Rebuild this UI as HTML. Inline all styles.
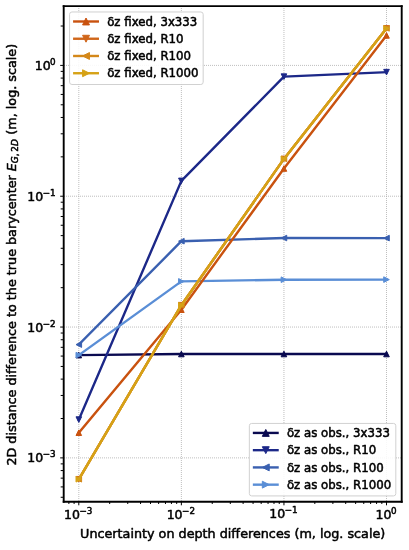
<!DOCTYPE html>
<html><head><meta charset="utf-8"><title>plot</title>
<style>html,body{margin:0;padding:0;background:#fff;}svg{display:block;filter:blur(0.3px);}text{stroke:#000;stroke-width:0.5px;stroke-linejoin:round;}</style>
</head><body>
<svg width="409" height="550" viewBox="0 0 409 550" version="1.1">
  <defs>
  <style type="text/css">*{stroke-linejoin: round; stroke-linecap: butt}</style>
 </defs>
 <g id="figure_1">
  <g id="patch_1">
   <path d="M 0 550 L 409 550 L 409 0 L 0 0 z
" style="fill: #ffffff"/>
  </g>
  <g id="axes_1">
   <g id="patch_2">
    <path d="M 63.7 501.8 L 401.7 501.8 L 401.7 6.1 L 63.7 6.1 z
" style="fill: #ffffff"/>
   </g>
   <g id="matplotlib.axis_1">
    <g id="xtick_1">
     <g id="line2d_1">
      <path d="M 78.8 501.8 L 78.8 6.1 " clip-path="url(#p9ecd431a60)" style="fill: none; stroke-dasharray: 1,1; stroke-dashoffset: 1.20; stroke: #adadad; stroke-width: 0.8"/>
     </g>
     <g id="line2d_2">
            <g>
       <path d="M 0 0 L 0 3.5 " transform="translate(78.8 501.8)" style="stroke: #000000;stroke: #000000"/>
      </g>
     </g>
     <g id="text_1">
            <g transform="translate(64.1125 518.798047)">
       <text>
        <tspan x="0" y="-0.264063" style="font-size: 12.5px; font-family: 'DejaVu Sans', sans-serif">1</tspan>
        <tspan x="7.952881" y="-0.264063" style="font-size: 12.5px; font-family: 'DejaVu Sans', sans-serif">0</tspan>
        <tspan x="15.4302" y="-5.240625" style="font-size: 8.75px; font-family: 'DejaVu Sans', sans-serif">−</tspan>
        <tspan x="22.7617" y="-5.240625" style="font-size: 8.75px; font-family: 'DejaVu Sans', sans-serif">3</tspan>
       </text>
      </g>
     </g>
    </g>
    <g id="xtick_2">
     <g id="line2d_3">
      <path d="M 181.37 501.8 L 181.37 6.1 " clip-path="url(#p9ecd431a60)" style="fill: none; stroke-dasharray: 1,1; stroke-dashoffset: 1.20; stroke: #adadad; stroke-width: 0.8"/>
     </g>
     <g id="line2d_4">
      <g>
       <path d="M 0 0 L 0 3.5 " transform="translate(181.37 501.8)" style="stroke: #000000;stroke: #000000"/>
      </g>
     </g>
     <g id="text_2">
            <g transform="translate(166.6825 518.798047)">
       <text>
        <tspan x="0" y="-0.264063" style="font-size: 12.5px; font-family: 'DejaVu Sans', sans-serif">1</tspan>
        <tspan x="7.952881" y="-0.264063" style="font-size: 12.5px; font-family: 'DejaVu Sans', sans-serif">0</tspan>
        <tspan x="15.4302" y="-5.240625" style="font-size: 8.75px; font-family: 'DejaVu Sans', sans-serif">−</tspan>
        <tspan x="22.7617" y="-5.240625" style="font-size: 8.75px; font-family: 'DejaVu Sans', sans-serif">2</tspan>
       </text>
      </g>
     </g>
    </g>
    <g id="xtick_3">
     <g id="line2d_5">
      <path d="M 283.94 501.8 L 283.94 6.1 " clip-path="url(#p9ecd431a60)" style="fill: none; stroke-dasharray: 1,1; stroke-dashoffset: 1.20; stroke: #adadad; stroke-width: 0.8"/>
     </g>
     <g id="line2d_6">
      <g>
       <path d="M 0 0 L 0 3.5 " transform="translate(283.94 501.8)" style="stroke: #000000;stroke: #000000"/>
      </g>
     </g>
     <g id="text_3">
            <g transform="translate(269.2525 518.798047)">
       <text>
        <tspan x="0" y="-0.384375" style="font-size: 12.5px; font-family: 'DejaVu Sans', sans-serif">1</tspan>
        <tspan x="7.952881" y="-0.384375" style="font-size: 12.5px; font-family: 'DejaVu Sans', sans-serif">0</tspan>
        <tspan x="15.4302" y="-5.360938" style="font-size: 8.75px; font-family: 'DejaVu Sans', sans-serif">−</tspan>
        <tspan x="22.7617" y="-5.360938" style="font-size: 8.75px; font-family: 'DejaVu Sans', sans-serif">1</tspan>
       </text>
      </g>
     </g>
    </g>
    <g id="xtick_4">
     <g id="line2d_7">
      <path d="M 386.51 501.8 L 386.51 6.1 " clip-path="url(#p9ecd431a60)" style="fill: none; stroke-dasharray: 1,1; stroke-dashoffset: 1.20; stroke: #adadad; stroke-width: 0.8"/>
     </g>
     <g id="line2d_8">
      <g>
       <path d="M 0 0 L 0 3.5 " transform="translate(386.51 501.8)" style="stroke: #000000;stroke: #000000"/>
      </g>
     </g>
     <g id="text_4">
            <g transform="translate(375.51 518.798047)">
       <text>
        <tspan x="0" y="-0.264063" style="font-size: 12.5px; font-family: 'DejaVu Sans', sans-serif">1</tspan>
        <tspan x="7.952881" y="-0.264063" style="font-size: 12.5px; font-family: 'DejaVu Sans', sans-serif">0</tspan>
        <tspan x="15.4302" y="-5.240625" style="font-size: 8.75px; font-family: 'DejaVu Sans', sans-serif">0</tspan>
       </text>
      </g>
     </g>
    </g>
    <g id="xtick_5">
     <g id="line2d_9">
            <g>
       <path d="M 0 0 L 0 2.2 " transform="translate(68.85994 501.8)" style="stroke: #000000;stroke: #000000"/>
      </g>
     </g>
    </g>
    <g id="xtick_6">
     <g id="line2d_10">
      <g>
       <path d="M 0 0 L 0 2.2 " transform="translate(74.106654 501.8)" style="stroke: #000000;stroke: #000000"/>
      </g>
     </g>
    </g>
    <g id="xtick_7">
     <g id="line2d_11">
      <g>
       <path d="M 0 0 L 0 2.2 " transform="translate(109.676647 501.8)" style="stroke: #000000;stroke: #000000"/>
      </g>
     </g>
    </g>
    <g id="xtick_8">
     <g id="line2d_12">
      <g>
       <path d="M 0 0 L 0 2.2 " transform="translate(127.738327 501.8)" style="stroke: #000000;stroke: #000000"/>
      </g>
     </g>
    </g>
    <g id="xtick_9">
     <g id="line2d_13">
      <g>
       <path d="M 0 0 L 0 2.2 " transform="translate(140.553293 501.8)" style="stroke: #000000;stroke: #000000"/>
      </g>
     </g>
    </g>
    <g id="xtick_10">
     <g id="line2d_14">
      <g>
       <path d="M 0 0 L 0 2.2 " transform="translate(150.493353 501.8)" style="stroke: #000000;stroke: #000000"/>
      </g>
     </g>
    </g>
    <g id="xtick_11">
     <g id="line2d_15">
      <g>
       <path d="M 0 0 L 0 2.2 " transform="translate(158.614974 501.8)" style="stroke: #000000;stroke: #000000"/>
      </g>
     </g>
    </g>
    <g id="xtick_12">
     <g id="line2d_16">
      <g>
       <path d="M 0 0 L 0 2.2 " transform="translate(165.481706 501.8)" style="stroke: #000000;stroke: #000000"/>
      </g>
     </g>
    </g>
    <g id="xtick_13">
     <g id="line2d_17">
      <g>
       <path d="M 0 0 L 0 2.2 " transform="translate(171.42994 501.8)" style="stroke: #000000;stroke: #000000"/>
      </g>
     </g>
    </g>
    <g id="xtick_14">
     <g id="line2d_18">
      <g>
       <path d="M 0 0 L 0 2.2 " transform="translate(176.676654 501.8)" style="stroke: #000000;stroke: #000000"/>
      </g>
     </g>
    </g>
    <g id="xtick_15">
     <g id="line2d_19">
      <g>
       <path d="M 0 0 L 0 2.2 " transform="translate(212.246647 501.8)" style="stroke: #000000;stroke: #000000"/>
      </g>
     </g>
    </g>
    <g id="xtick_16">
     <g id="line2d_20">
      <g>
       <path d="M 0 0 L 0 2.2 " transform="translate(230.308327 501.8)" style="stroke: #000000;stroke: #000000"/>
      </g>
     </g>
    </g>
    <g id="xtick_17">
     <g id="line2d_21">
      <g>
       <path d="M 0 0 L 0 2.2 " transform="translate(243.123293 501.8)" style="stroke: #000000;stroke: #000000"/>
      </g>
     </g>
    </g>
    <g id="xtick_18">
     <g id="line2d_22">
      <g>
       <path d="M 0 0 L 0 2.2 " transform="translate(253.063353 501.8)" style="stroke: #000000;stroke: #000000"/>
      </g>
     </g>
    </g>
    <g id="xtick_19">
     <g id="line2d_23">
      <g>
       <path d="M 0 0 L 0 2.2 " transform="translate(261.184974 501.8)" style="stroke: #000000;stroke: #000000"/>
      </g>
     </g>
    </g>
    <g id="xtick_20">
     <g id="line2d_24">
      <g>
       <path d="M 0 0 L 0 2.2 " transform="translate(268.051706 501.8)" style="stroke: #000000;stroke: #000000"/>
      </g>
     </g>
    </g>
    <g id="xtick_21">
     <g id="line2d_25">
      <g>
       <path d="M 0 0 L 0 2.2 " transform="translate(273.99994 501.8)" style="stroke: #000000;stroke: #000000"/>
      </g>
     </g>
    </g>
    <g id="xtick_22">
     <g id="line2d_26">
      <g>
       <path d="M 0 0 L 0 2.2 " transform="translate(279.246654 501.8)" style="stroke: #000000;stroke: #000000"/>
      </g>
     </g>
    </g>
    <g id="xtick_23">
     <g id="line2d_27">
      <g>
       <path d="M 0 0 L 0 2.2 " transform="translate(314.816647 501.8)" style="stroke: #000000;stroke: #000000"/>
      </g>
     </g>
    </g>
    <g id="xtick_24">
     <g id="line2d_28">
      <g>
       <path d="M 0 0 L 0 2.2 " transform="translate(332.878327 501.8)" style="stroke: #000000;stroke: #000000"/>
      </g>
     </g>
    </g>
    <g id="xtick_25">
     <g id="line2d_29">
      <g>
       <path d="M 0 0 L 0 2.2 " transform="translate(345.693293 501.8)" style="stroke: #000000;stroke: #000000"/>
      </g>
     </g>
    </g>
    <g id="xtick_26">
     <g id="line2d_30">
      <g>
       <path d="M 0 0 L 0 2.2 " transform="translate(355.633353 501.8)" style="stroke: #000000;stroke: #000000"/>
      </g>
     </g>
    </g>
    <g id="xtick_27">
     <g id="line2d_31">
      <g>
       <path d="M 0 0 L 0 2.2 " transform="translate(363.754974 501.8)" style="stroke: #000000;stroke: #000000"/>
      </g>
     </g>
    </g>
    <g id="xtick_28">
     <g id="line2d_32">
      <g>
       <path d="M 0 0 L 0 2.2 " transform="translate(370.621706 501.8)" style="stroke: #000000;stroke: #000000"/>
      </g>
     </g>
    </g>
    <g id="xtick_29">
     <g id="line2d_33">
      <g>
       <path d="M 0 0 L 0 2.2 " transform="translate(376.56994 501.8)" style="stroke: #000000;stroke: #000000"/>
      </g>
     </g>
    </g>
    <g id="xtick_30">
     <g id="line2d_34">
      <g>
       <path d="M 0 0 L 0 2.2 " transform="translate(381.816654 501.8)" style="stroke: #000000;stroke: #000000"/>
      </g>
     </g>
    </g>
    <g id="text_5">
     <text style="font-size: 12.75px; font-family: 'DejaVu Sans', sans-serif; text-anchor: middle" x="232.7" y="538.285664" transform="rotate(-0 232.7 538.285664)">Uncertainty on depth differences (m, log. scale)</text>
    </g>
   </g>
   <g id="matplotlib.axis_2">
    <g id="ytick_1">
     <g id="line2d_35">
      <path d="M 63.7 457.89 L 401.7 457.89 " clip-path="url(#p9ecd431a60)" style="fill: none; stroke-dasharray: 1,1; stroke-dashoffset: 1.70; stroke: #adadad; stroke-width: 0.8"/>
     </g>
     <g id="line2d_36">
            <g>
       <path d="M 0 0 L -3.5 0 " transform="translate(63.7 457.89)" style="stroke: #000000;stroke: #000000"/>
      </g>
     </g>
     <g id="text_6">
            <g transform="translate(27.325 462.639023)">
       <text>
        <tspan x="0" y="-0.264063" style="font-size: 12.5px; font-family: 'DejaVu Sans', sans-serif">1</tspan>
        <tspan x="7.952881" y="-0.264063" style="font-size: 12.5px; font-family: 'DejaVu Sans', sans-serif">0</tspan>
        <tspan x="15.4302" y="-5.240625" style="font-size: 8.75px; font-family: 'DejaVu Sans', sans-serif">−</tspan>
        <tspan x="22.7617" y="-5.240625" style="font-size: 8.75px; font-family: 'DejaVu Sans', sans-serif">3</tspan>
       </text>
      </g>
     </g>
    </g>
    <g id="ytick_2">
     <g id="line2d_37">
      <path d="M 63.7 327.06 L 401.7 327.06 " clip-path="url(#p9ecd431a60)" style="fill: none; stroke-dasharray: 1,1; stroke-dashoffset: 1.70; stroke: #adadad; stroke-width: 0.8"/>
     </g>
     <g id="line2d_38">
      <g>
       <path d="M 0 0 L -3.5 0 " transform="translate(63.7 327.06)" style="stroke: #000000;stroke: #000000"/>
      </g>
     </g>
     <g id="text_7">
            <g transform="translate(27.325 331.809023)">
       <text>
        <tspan x="0" y="-0.264063" style="font-size: 12.5px; font-family: 'DejaVu Sans', sans-serif">1</tspan>
        <tspan x="7.952881" y="-0.264063" style="font-size: 12.5px; font-family: 'DejaVu Sans', sans-serif">0</tspan>
        <tspan x="15.4302" y="-5.240625" style="font-size: 8.75px; font-family: 'DejaVu Sans', sans-serif">−</tspan>
        <tspan x="22.7617" y="-5.240625" style="font-size: 8.75px; font-family: 'DejaVu Sans', sans-serif">2</tspan>
       </text>
      </g>
     </g>
    </g>
    <g id="ytick_3">
     <g id="line2d_39">
      <path d="M 63.7 196.23 L 401.7 196.23 " clip-path="url(#p9ecd431a60)" style="fill: none; stroke-dasharray: 1,1; stroke-dashoffset: 1.70; stroke: #adadad; stroke-width: 0.8"/>
     </g>
     <g id="line2d_40">
      <g>
       <path d="M 0 0 L -3.5 0 " transform="translate(63.7 196.23)" style="stroke: #000000;stroke: #000000"/>
      </g>
     </g>
     <g id="text_8">
            <g transform="translate(27.325 200.979023)">
       <text>
        <tspan x="0" y="-0.384375" style="font-size: 12.5px; font-family: 'DejaVu Sans', sans-serif">1</tspan>
        <tspan x="7.952881" y="-0.384375" style="font-size: 12.5px; font-family: 'DejaVu Sans', sans-serif">0</tspan>
        <tspan x="15.4302" y="-5.360938" style="font-size: 8.75px; font-family: 'DejaVu Sans', sans-serif">−</tspan>
        <tspan x="22.7617" y="-5.360938" style="font-size: 8.75px; font-family: 'DejaVu Sans', sans-serif">1</tspan>
       </text>
      </g>
     </g>
    </g>
    <g id="ytick_4">
     <g id="line2d_41">
      <path d="M 63.7 65.4 L 401.7 65.4 " clip-path="url(#p9ecd431a60)" style="fill: none; stroke-dasharray: 1,1; stroke-dashoffset: 1.70; stroke: #adadad; stroke-width: 0.8"/>
     </g>
     <g id="line2d_42">
      <g>
       <path d="M 0 0 L -3.5 0 " transform="translate(63.7 65.4)" style="stroke: #000000;stroke: #000000"/>
      </g>
     </g>
     <g id="text_9">
            <g transform="translate(34.7 70.149023)">
       <text>
        <tspan x="0" y="-0.264063" style="font-size: 12.5px; font-family: 'DejaVu Sans', sans-serif">1</tspan>
        <tspan x="7.952881" y="-0.264063" style="font-size: 12.5px; font-family: 'DejaVu Sans', sans-serif">0</tspan>
        <tspan x="15.4302" y="-5.240625" style="font-size: 8.75px; font-family: 'DejaVu Sans', sans-serif">0</tspan>
       </text>
      </g>
     </g>
    </g>
    <g id="ytick_5">
     <g id="line2d_43">
            <g>
       <path d="M 0 0 L -3 0 " transform="translate(63.7 497.273754)" style="stroke: #000000;stroke: #000000"/>
      </g>
     </g>
    </g>
    <g id="ytick_6">
     <g id="line2d_44">
      <g>
       <path d="M 0 0 L -3 0 " transform="translate(63.7 486.914472)" style="stroke: #000000;stroke: #000000"/>
      </g>
     </g>
    </g>
    <g id="ytick_7">
     <g id="line2d_45">
      <g>
       <path d="M 0 0 L -3 0 " transform="translate(63.7 478.155823)" style="stroke: #000000;stroke: #000000"/>
      </g>
     </g>
    </g>
    <g id="ytick_8">
     <g id="line2d_46">
      <g>
       <path d="M 0 0 L -3 0 " transform="translate(63.7 470.568737)" style="stroke: #000000;stroke: #000000"/>
      </g>
     </g>
    </g>
    <g id="ytick_9">
     <g id="line2d_47">
      <g>
       <path d="M 0 0 L -3 0 " transform="translate(63.7 463.876452)" style="stroke: #000000;stroke: #000000"/>
      </g>
     </g>
    </g>
    <g id="ytick_10">
     <g id="line2d_48">
      <g>
       <path d="M 0 0 L -3 0 " transform="translate(63.7 418.506246)" style="stroke: #000000;stroke: #000000"/>
      </g>
     </g>
    </g>
    <g id="ytick_11">
     <g id="line2d_49">
      <g>
       <path d="M 0 0 L -3 0 " transform="translate(63.7 395.468226)" style="stroke: #000000;stroke: #000000"/>
      </g>
     </g>
    </g>
    <g id="ytick_12">
     <g id="line2d_50">
      <g>
       <path d="M 0 0 L -3 0 " transform="translate(63.7 379.122491)" style="stroke: #000000;stroke: #000000"/>
      </g>
     </g>
    </g>
    <g id="ytick_13">
     <g id="line2d_51">
      <g>
       <path d="M 0 0 L -3 0 " transform="translate(63.7 366.443754)" style="stroke: #000000;stroke: #000000"/>
      </g>
     </g>
    </g>
    <g id="ytick_14">
     <g id="line2d_52">
      <g>
       <path d="M 0 0 L -3 0 " transform="translate(63.7 356.084472)" style="stroke: #000000;stroke: #000000"/>
      </g>
     </g>
    </g>
    <g id="ytick_15">
     <g id="line2d_53">
      <g>
       <path d="M 0 0 L -3 0 " transform="translate(63.7 347.325823)" style="stroke: #000000;stroke: #000000"/>
      </g>
     </g>
    </g>
    <g id="ytick_16">
     <g id="line2d_54">
      <g>
       <path d="M 0 0 L -3 0 " transform="translate(63.7 339.738737)" style="stroke: #000000;stroke: #000000"/>
      </g>
     </g>
    </g>
    <g id="ytick_17">
     <g id="line2d_55">
      <g>
       <path d="M 0 0 L -3 0 " transform="translate(63.7 333.046452)" style="stroke: #000000;stroke: #000000"/>
      </g>
     </g>
    </g>
    <g id="ytick_18">
     <g id="line2d_56">
      <g>
       <path d="M 0 0 L -3 0 " transform="translate(63.7 287.676246)" style="stroke: #000000;stroke: #000000"/>
      </g>
     </g>
    </g>
    <g id="ytick_19">
     <g id="line2d_57">
      <g>
       <path d="M 0 0 L -3 0 " transform="translate(63.7 264.638226)" style="stroke: #000000;stroke: #000000"/>
      </g>
     </g>
    </g>
    <g id="ytick_20">
     <g id="line2d_58">
      <g>
       <path d="M 0 0 L -3 0 " transform="translate(63.7 248.292491)" style="stroke: #000000;stroke: #000000"/>
      </g>
     </g>
    </g>
    <g id="ytick_21">
     <g id="line2d_59">
      <g>
       <path d="M 0 0 L -3 0 " transform="translate(63.7 235.613754)" style="stroke: #000000;stroke: #000000"/>
      </g>
     </g>
    </g>
    <g id="ytick_22">
     <g id="line2d_60">
      <g>
       <path d="M 0 0 L -3 0 " transform="translate(63.7 225.254472)" style="stroke: #000000;stroke: #000000"/>
      </g>
     </g>
    </g>
    <g id="ytick_23">
     <g id="line2d_61">
      <g>
       <path d="M 0 0 L -3 0 " transform="translate(63.7 216.495823)" style="stroke: #000000;stroke: #000000"/>
      </g>
     </g>
    </g>
    <g id="ytick_24">
     <g id="line2d_62">
      <g>
       <path d="M 0 0 L -3 0 " transform="translate(63.7 208.908737)" style="stroke: #000000;stroke: #000000"/>
      </g>
     </g>
    </g>
    <g id="ytick_25">
     <g id="line2d_63">
      <g>
       <path d="M 0 0 L -3 0 " transform="translate(63.7 202.216452)" style="stroke: #000000;stroke: #000000"/>
      </g>
     </g>
    </g>
    <g id="ytick_26">
     <g id="line2d_64">
      <g>
       <path d="M 0 0 L -3 0 " transform="translate(63.7 156.846246)" style="stroke: #000000;stroke: #000000"/>
      </g>
     </g>
    </g>
    <g id="ytick_27">
     <g id="line2d_65">
      <g>
       <path d="M 0 0 L -3 0 " transform="translate(63.7 133.808226)" style="stroke: #000000;stroke: #000000"/>
      </g>
     </g>
    </g>
    <g id="ytick_28">
     <g id="line2d_66">
      <g>
       <path d="M 0 0 L -3 0 " transform="translate(63.7 117.462491)" style="stroke: #000000;stroke: #000000"/>
      </g>
     </g>
    </g>
    <g id="ytick_29">
     <g id="line2d_67">
      <g>
       <path d="M 0 0 L -3 0 " transform="translate(63.7 104.783754)" style="stroke: #000000;stroke: #000000"/>
      </g>
     </g>
    </g>
    <g id="ytick_30">
     <g id="line2d_68">
      <g>
       <path d="M 0 0 L -3 0 " transform="translate(63.7 94.424472)" style="stroke: #000000;stroke: #000000"/>
      </g>
     </g>
    </g>
    <g id="ytick_31">
     <g id="line2d_69">
      <g>
       <path d="M 0 0 L -3 0 " transform="translate(63.7 85.665823)" style="stroke: #000000;stroke: #000000"/>
      </g>
     </g>
    </g>
    <g id="ytick_32">
     <g id="line2d_70">
      <g>
       <path d="M 0 0 L -3 0 " transform="translate(63.7 78.078737)" style="stroke: #000000;stroke: #000000"/>
      </g>
     </g>
    </g>
    <g id="ytick_33">
     <g id="line2d_71">
      <g>
       <path d="M 0 0 L -3 0 " transform="translate(63.7 71.386452)" style="stroke: #000000;stroke: #000000"/>
      </g>
     </g>
    </g>
    <g id="ytick_34">
     <g id="line2d_72">
      <g>
       <path d="M 0 0 L -3 0 " transform="translate(63.7 26.016246)" style="stroke: #000000;stroke: #000000"/>
      </g>
     </g>
    </g>
    <g id="text_10">
          <g transform="translate(16.1375 465.5987) rotate(-90)">
      <text>
       <tspan x="0" y="-0.125" style="font-size: 12.75px; font-family: 'DejaVu Sans', sans-serif">2</tspan>
       <tspan x="8.111938" y="-0.125" style="font-size: 12.75px; font-family: 'DejaVu Sans', sans-serif">D</tspan>
       <tspan x="17.929688" y="-0.125" style="font-size: 12.75px; font-family: 'DejaVu Sans', sans-serif"> </tspan>
       <tspan x="21.982544" y="-0.125" style="font-size: 12.75px; font-family: 'DejaVu Sans', sans-serif">d</tspan>
       <tspan x="30.075806" y="-0.125" style="font-size: 12.75px; font-family: 'DejaVu Sans', sans-serif">i</tspan>
       <tspan x="33.618164" y="-0.125" style="font-size: 12.75px; font-family: 'DejaVu Sans', sans-serif">s</tspan>
       <tspan x="40.260864" y="-0.125" style="font-size: 12.75px; font-family: 'DejaVu Sans', sans-serif">t</tspan>
       <tspan x="45.26001" y="-0.125" style="font-size: 12.75px; font-family: 'DejaVu Sans', sans-serif">a</tspan>
       <tspan x="53.07312" y="-0.125" style="font-size: 12.75px; font-family: 'DejaVu Sans', sans-serif">n</tspan>
       <tspan x="61.153931" y="-0.125" style="font-size: 12.75px; font-family: 'DejaVu Sans', sans-serif">c</tspan>
       <tspan x="68.16394" y="-0.125" style="font-size: 12.75px; font-family: 'DejaVu Sans', sans-serif">e</tspan>
       <tspan x="76.008179" y="-0.125" style="font-size: 12.75px; font-family: 'DejaVu Sans', sans-serif"> </tspan>
       <tspan x="80.061035" y="-0.125" style="font-size: 12.75px; font-family: 'DejaVu Sans', sans-serif">d</tspan>
       <tspan x="88.154297" y="-0.125" style="font-size: 12.75px; font-family: 'DejaVu Sans', sans-serif">i</tspan>
       <tspan x="91.696655" y="-0.125" style="font-size: 12.75px; font-family: 'DejaVu Sans', sans-serif">f</tspan>
       <tspan x="96.185303" y="-0.125" style="font-size: 12.75px; font-family: 'DejaVu Sans', sans-serif">f</tspan>
       <tspan x="100.67395" y="-0.125" style="font-size: 12.75px; font-family: 'DejaVu Sans', sans-serif">e</tspan>
       <tspan x="108.518188" y="-0.125" style="font-size: 12.75px; font-family: 'DejaVu Sans', sans-serif">r</tspan>
       <tspan x="113.760132" y="-0.125" style="font-size: 12.75px; font-family: 'DejaVu Sans', sans-serif">e</tspan>
       <tspan x="121.60437" y="-0.125" style="font-size: 12.75px; font-family: 'DejaVu Sans', sans-serif">n</tspan>
       <tspan x="129.685181" y="-0.125" style="font-size: 12.75px; font-family: 'DejaVu Sans', sans-serif">c</tspan>
       <tspan x="136.69519" y="-0.125" style="font-size: 12.75px; font-family: 'DejaVu Sans', sans-serif">e</tspan>
       <tspan x="144.539429" y="-0.125" style="font-size: 12.75px; font-family: 'DejaVu Sans', sans-serif"> </tspan>
       <tspan x="148.592285" y="-0.125" style="font-size: 12.75px; font-family: 'DejaVu Sans', sans-serif">t</tspan>
       <tspan x="153.591431" y="-0.125" style="font-size: 12.75px; font-family: 'DejaVu Sans', sans-serif">o</tspan>
       <tspan x="161.39209" y="-0.125" style="font-size: 12.75px; font-family: 'DejaVu Sans', sans-serif"> </tspan>
       <tspan x="165.444946" y="-0.125" style="font-size: 12.75px; font-family: 'DejaVu Sans', sans-serif">t</tspan>
       <tspan x="170.444092" y="-0.125" style="font-size: 12.75px; font-family: 'DejaVu Sans', sans-serif">h</tspan>
       <tspan x="178.524902" y="-0.125" style="font-size: 12.75px; font-family: 'DejaVu Sans', sans-serif">e</tspan>
       <tspan x="186.369141" y="-0.125" style="font-size: 12.75px; font-family: 'DejaVu Sans', sans-serif"> </tspan>
       <tspan x="190.421997" y="-0.125" style="font-size: 12.75px; font-family: 'DejaVu Sans', sans-serif">t</tspan>
       <tspan x="195.421143" y="-0.125" style="font-size: 12.75px; font-family: 'DejaVu Sans', sans-serif">r</tspan>
       <tspan x="200.663086" y="-0.125" style="font-size: 12.75px; font-family: 'DejaVu Sans', sans-serif">u</tspan>
       <tspan x="208.743896" y="-0.125" style="font-size: 12.75px; font-family: 'DejaVu Sans', sans-serif">e</tspan>
       <tspan x="216.588135" y="-0.125" style="font-size: 12.75px; font-family: 'DejaVu Sans', sans-serif"> </tspan>
       <tspan x="220.640991" y="-0.125" style="font-size: 12.75px; font-family: 'DejaVu Sans', sans-serif">b</tspan>
       <tspan x="228.734253" y="-0.125" style="font-size: 12.75px; font-family: 'DejaVu Sans', sans-serif">a</tspan>
       <tspan x="236.547363" y="-0.125" style="font-size: 12.75px; font-family: 'DejaVu Sans', sans-serif">r</tspan>
       <tspan x="241.789307" y="-0.125" style="font-size: 12.75px; font-family: 'DejaVu Sans', sans-serif">y</tspan>
       <tspan x="249.334717" y="-0.125" style="font-size: 12.75px; font-family: 'DejaVu Sans', sans-serif">c</tspan>
       <tspan x="256.344727" y="-0.125" style="font-size: 12.75px; font-family: 'DejaVu Sans', sans-serif">e</tspan>
       <tspan x="264.188965" y="-0.125" style="font-size: 12.75px; font-family: 'DejaVu Sans', sans-serif">n</tspan>
       <tspan x="272.269775" y="-0.125" style="font-size: 12.75px; font-family: 'DejaVu Sans', sans-serif">t</tspan>
       <tspan x="277.268921" y="-0.125" style="font-size: 12.75px; font-family: 'DejaVu Sans', sans-serif">e</tspan>
       <tspan x="285.113159" y="-0.125" style="font-size: 12.75px; font-family: 'DejaVu Sans', sans-serif">r</tspan>
       <tspan x="290.355103" y="-0.125" style="font-size: 12.75px; font-family: 'DejaVu Sans', sans-serif"> </tspan>
       <tspan x="326.861926" y="-0.125" style="font-size: 12.75px; font-family: 'DejaVu Sans', sans-serif"> </tspan>
       <tspan x="330.914783" y="-0.125" style="font-size: 12.75px; font-family: 'DejaVu Sans', sans-serif">(</tspan>
       <tspan x="335.889026" y="-0.125" style="font-size: 12.75px; font-family: 'DejaVu Sans', sans-serif">m</tspan>
       <tspan x="348.30907" y="-0.125" style="font-size: 12.75px; font-family: 'DejaVu Sans', sans-serif">,</tspan>
       <tspan x="352.361926" y="-0.125" style="font-size: 12.75px; font-family: 'DejaVu Sans', sans-serif"> </tspan>
       <tspan x="356.414783" y="-0.125" style="font-size: 12.75px; font-family: 'DejaVu Sans', sans-serif">l</tspan>
       <tspan x="359.957141" y="-0.125" style="font-size: 12.75px; font-family: 'DejaVu Sans', sans-serif">o</tspan>
       <tspan x="367.7578" y="-0.125" style="font-size: 12.75px; font-family: 'DejaVu Sans', sans-serif">g</tspan>
       <tspan x="375.851062" y="-0.125" style="font-size: 12.75px; font-family: 'DejaVu Sans', sans-serif">.</tspan>
       <tspan x="379.903918" y="-0.125" style="font-size: 12.75px; font-family: 'DejaVu Sans', sans-serif"> </tspan>
       <tspan x="383.956775" y="-0.125" style="font-size: 12.75px; font-family: 'DejaVu Sans', sans-serif">s</tspan>
       <tspan x="390.599475" y="-0.125" style="font-size: 12.75px; font-family: 'DejaVu Sans', sans-serif">c</tspan>
       <tspan x="397.609485" y="-0.125" style="font-size: 12.75px; font-family: 'DejaVu Sans', sans-serif">a</tspan>
       <tspan x="405.422595" y="-0.125" style="font-size: 12.75px; font-family: 'DejaVu Sans', sans-serif">l</tspan>
       <tspan x="408.964954" y="-0.125" style="font-size: 12.75px; font-family: 'DejaVu Sans', sans-serif">e</tspan>
       <tspan x="416.809192" y="-0.125" style="font-size: 12.75px; font-family: 'DejaVu Sans', sans-serif">)</tspan>
       <tspan x="294.407959" y="-0.125" style="font-style: oblique; font-size: 12.75px; font-family: 'DejaVu Sans', sans-serif">E</tspan>
       <tspan x="302.463867" y="2.007812" style="font-style: oblique; font-size: 8.925px; font-family: 'DejaVu Sans', sans-serif">G</tspan>
       <tspan x="319.634033" y="2.007812" style="font-style: oblique; font-size: 8.925px; font-family: 'DejaVu Sans', sans-serif">D</tspan>
       <tspan x="309.379871" y="2.007812" style="font-size: 8.925px; font-family: 'DejaVu Sans', sans-serif">,</tspan>
       <tspan x="313.955676" y="2.007812" style="font-size: 8.925px; font-family: 'DejaVu Sans', sans-serif">2</tspan>
      </text>
     </g>
    </g>
   </g>
   <g id="line2d_73">
    <path d="M 78.8 355.1 L 181.37 354 L 283.94 354 L 386.51 354 " clip-path="url(#p9ecd431a60)" style="fill: none; stroke: #0a0a50; stroke-width: 2.4; stroke-linecap: square"/>
        <g clip-path="url(#p9ecd431a60)">
     <path d="M 0 -2.8 L -2.8 2.8 L 2.8 2.8 z
" transform="translate(78.8 355.1)" style="stroke: #0a0a50; stroke-linejoin: miter;fill: #0a0a50; stroke: #0a0a50; stroke-linejoin: miter"/>
     <path d="M 0 -2.8 L -2.8 2.8 L 2.8 2.8 z
" transform="translate(181.37 354)" style="stroke: #0a0a50; stroke-linejoin: miter;fill: #0a0a50; stroke: #0a0a50; stroke-linejoin: miter"/>
     <path d="M 0 -2.8 L -2.8 2.8 L 2.8 2.8 z
" transform="translate(283.94 354)" style="stroke: #0a0a50; stroke-linejoin: miter;fill: #0a0a50; stroke: #0a0a50; stroke-linejoin: miter"/>
     <path d="M 0 -2.8 L -2.8 2.8 L 2.8 2.8 z
" transform="translate(386.51 354)" style="stroke: #0a0a50; stroke-linejoin: miter;fill: #0a0a50; stroke: #0a0a50; stroke-linejoin: miter"/>
    </g>
   </g>
   <g id="line2d_74">
    <path d="M 78.8 419.6 L 181.37 180.9 L 283.94 76.65 L 386.51 72.15 " clip-path="url(#p9ecd431a60)" style="fill: none; stroke: #1c2888; stroke-width: 2.4; stroke-linecap: square"/>
        <g clip-path="url(#p9ecd431a60)">
     <path d="M -0 2.8 L 2.8 -2.8 L -2.8 -2.8 z
" transform="translate(78.8 419.6)" style="stroke: #1c2888; stroke-linejoin: miter;fill: #1c2888; stroke: #1c2888; stroke-linejoin: miter"/>
     <path d="M -0 2.8 L 2.8 -2.8 L -2.8 -2.8 z
" transform="translate(181.37 180.9)" style="stroke: #1c2888; stroke-linejoin: miter;fill: #1c2888; stroke: #1c2888; stroke-linejoin: miter"/>
     <path d="M -0 2.8 L 2.8 -2.8 L -2.8 -2.8 z
" transform="translate(283.94 76.65)" style="stroke: #1c2888; stroke-linejoin: miter;fill: #1c2888; stroke: #1c2888; stroke-linejoin: miter"/>
     <path d="M -0 2.8 L 2.8 -2.8 L -2.8 -2.8 z
" transform="translate(386.51 72.15)" style="stroke: #1c2888; stroke-linejoin: miter;fill: #1c2888; stroke: #1c2888; stroke-linejoin: miter"/>
    </g>
   </g>
   <g id="line2d_75">
    <path d="M 78.8 344.6 L 181.37 241.2 L 283.94 238.05 L 386.51 238.1 " clip-path="url(#p9ecd431a60)" style="fill: none; stroke: #3a60b0; stroke-width: 2.4; stroke-linecap: square"/>
        <g clip-path="url(#p9ecd431a60)">
     <path d="M -2.8 -0 L 2.8 2.8 L 2.8 -2.8 z
" transform="translate(78.8 344.6)" style="stroke: #3a60b0; stroke-linejoin: miter;fill: #3a60b0; stroke: #3a60b0; stroke-linejoin: miter"/>
     <path d="M -2.8 -0 L 2.8 2.8 L 2.8 -2.8 z
" transform="translate(181.37 241.2)" style="stroke: #3a60b0; stroke-linejoin: miter;fill: #3a60b0; stroke: #3a60b0; stroke-linejoin: miter"/>
     <path d="M -2.8 -0 L 2.8 2.8 L 2.8 -2.8 z
" transform="translate(283.94 238.05)" style="stroke: #3a60b0; stroke-linejoin: miter;fill: #3a60b0; stroke: #3a60b0; stroke-linejoin: miter"/>
     <path d="M -2.8 -0 L 2.8 2.8 L 2.8 -2.8 z
" transform="translate(386.51 238.1)" style="stroke: #3a60b0; stroke-linejoin: miter;fill: #3a60b0; stroke: #3a60b0; stroke-linejoin: miter"/>
    </g>
   </g>
   <g id="line2d_76">
    <path d="M 78.8 355.1 L 181.37 281.4 L 283.94 279.7 L 386.51 279.6 " clip-path="url(#p9ecd431a60)" style="fill: none; stroke: #5a8ed6; stroke-width: 2.4; stroke-linecap: square"/>
        <g clip-path="url(#p9ecd431a60)">
     <path d="M 2.8 0 L -2.8 -2.8 L -2.8 2.8 z
" transform="translate(78.8 355.1)" style="stroke: #5a8ed6; stroke-linejoin: miter;fill: #5a8ed6; stroke: #5a8ed6; stroke-linejoin: miter"/>
     <path d="M 2.8 0 L -2.8 -2.8 L -2.8 2.8 z
" transform="translate(181.37 281.4)" style="stroke: #5a8ed6; stroke-linejoin: miter;fill: #5a8ed6; stroke: #5a8ed6; stroke-linejoin: miter"/>
     <path d="M 2.8 0 L -2.8 -2.8 L -2.8 2.8 z
" transform="translate(283.94 279.7)" style="stroke: #5a8ed6; stroke-linejoin: miter;fill: #5a8ed6; stroke: #5a8ed6; stroke-linejoin: miter"/>
     <path d="M 2.8 0 L -2.8 -2.8 L -2.8 2.8 z
" transform="translate(386.51 279.6)" style="stroke: #5a8ed6; stroke-linejoin: miter;fill: #5a8ed6; stroke: #5a8ed6; stroke-linejoin: miter"/>
    </g>
   </g>
   <g id="line2d_77">
    <path d="M 78.8 432.7 L 181.37 309.7 L 283.94 168.5 L 386.51 35.4 " clip-path="url(#p9ecd431a60)" style="fill: none; stroke: #c9520f; stroke-width: 2.4; stroke-linecap: square"/>
        <g clip-path="url(#p9ecd431a60)">
     <path d="M 0 -2.8 L -2.8 2.8 L 2.8 2.8 z
" transform="translate(78.8 432.7)" style="stroke: #c9520f; stroke-linejoin: miter;fill: #c9520f; stroke: #c9520f; stroke-linejoin: miter"/>
     <path d="M 0 -2.8 L -2.8 2.8 L 2.8 2.8 z
" transform="translate(181.37 309.7)" style="stroke: #c9520f; stroke-linejoin: miter;fill: #c9520f; stroke: #c9520f; stroke-linejoin: miter"/>
     <path d="M 0 -2.8 L -2.8 2.8 L 2.8 2.8 z
" transform="translate(283.94 168.5)" style="stroke: #c9520f; stroke-linejoin: miter;fill: #c9520f; stroke: #c9520f; stroke-linejoin: miter"/>
     <path d="M 0 -2.8 L -2.8 2.8 L 2.8 2.8 z
" transform="translate(386.51 35.4)" style="stroke: #c9520f; stroke-linejoin: miter;fill: #c9520f; stroke: #c9520f; stroke-linejoin: miter"/>
    </g>
   </g>
   <g id="line2d_78">
    <path d="M 78.8 479.25 L 181.37 305.2 L 283.94 158.9 L 386.51 28.4 " clip-path="url(#p9ecd431a60)" style="fill: none; stroke: #d0661a; stroke-width: 2.4; stroke-linecap: square"/>
        <g clip-path="url(#p9ecd431a60)">
     <path d="M -0 2.8 L 2.8 -2.8 L -2.8 -2.8 z
" transform="translate(78.8 479.25)" style="stroke: #d0661a; stroke-linejoin: miter;fill: #d0661a; stroke: #d0661a; stroke-linejoin: miter"/>
     <path d="M -0 2.8 L 2.8 -2.8 L -2.8 -2.8 z
" transform="translate(181.37 305.2)" style="stroke: #d0661a; stroke-linejoin: miter;fill: #d0661a; stroke: #d0661a; stroke-linejoin: miter"/>
     <path d="M -0 2.8 L 2.8 -2.8 L -2.8 -2.8 z
" transform="translate(283.94 158.9)" style="stroke: #d0661a; stroke-linejoin: miter;fill: #d0661a; stroke: #d0661a; stroke-linejoin: miter"/>
     <path d="M -0 2.8 L 2.8 -2.8 L -2.8 -2.8 z
" transform="translate(386.51 28.4)" style="stroke: #d0661a; stroke-linejoin: miter;fill: #d0661a; stroke: #d0661a; stroke-linejoin: miter"/>
    </g>
   </g>
   <g id="line2d_79">
    <path d="M 78.8 479.25 L 181.37 305.2 L 283.94 158.9 L 386.51 28.4 " clip-path="url(#p9ecd431a60)" style="fill: none; stroke: #d4881a; stroke-width: 2.4; stroke-linecap: square"/>
        <g clip-path="url(#p9ecd431a60)">
     <path d="M -2.8 -0 L 2.8 2.8 L 2.8 -2.8 z
" transform="translate(78.8 479.25)" style="stroke: #d4881a; stroke-linejoin: miter;fill: #d4881a; stroke: #d4881a; stroke-linejoin: miter"/>
     <path d="M -2.8 -0 L 2.8 2.8 L 2.8 -2.8 z
" transform="translate(181.37 305.2)" style="stroke: #d4881a; stroke-linejoin: miter;fill: #d4881a; stroke: #d4881a; stroke-linejoin: miter"/>
     <path d="M -2.8 -0 L 2.8 2.8 L 2.8 -2.8 z
" transform="translate(283.94 158.9)" style="stroke: #d4881a; stroke-linejoin: miter;fill: #d4881a; stroke: #d4881a; stroke-linejoin: miter"/>
     <path d="M -2.8 -0 L 2.8 2.8 L 2.8 -2.8 z
" transform="translate(386.51 28.4)" style="stroke: #d4881a; stroke-linejoin: miter;fill: #d4881a; stroke: #d4881a; stroke-linejoin: miter"/>
    </g>
   </g>
   <g id="line2d_80">
    <path d="M 78.8 479.25 L 181.37 305.2 L 283.94 158.9 L 386.51 28.4 " clip-path="url(#p9ecd431a60)" style="fill: none; stroke: #d6a216; stroke-width: 2.4; stroke-linecap: square"/>
        <g clip-path="url(#p9ecd431a60)">
     <path d="M 2.8 0 L -2.8 -2.8 L -2.8 2.8 z
" transform="translate(78.8 479.25)" style="stroke: #d6a216; stroke-linejoin: miter;fill: #d6a216; stroke: #d6a216; stroke-linejoin: miter"/>
     <path d="M 2.8 0 L -2.8 -2.8 L -2.8 2.8 z
" transform="translate(181.37 305.2)" style="stroke: #d6a216; stroke-linejoin: miter;fill: #d6a216; stroke: #d6a216; stroke-linejoin: miter"/>
     <path d="M 2.8 0 L -2.8 -2.8 L -2.8 2.8 z
" transform="translate(283.94 158.9)" style="stroke: #d6a216; stroke-linejoin: miter;fill: #d6a216; stroke: #d6a216; stroke-linejoin: miter"/>
     <path d="M 2.8 0 L -2.8 -2.8 L -2.8 2.8 z
" transform="translate(386.51 28.4)" style="stroke: #d6a216; stroke-linejoin: miter;fill: #d6a216; stroke: #d6a216; stroke-linejoin: miter"/>
    </g>
   </g>
   <g id="patch_3">
    <path d="M 63.7 501.8 L 63.7 6.1 " style="fill: none; stroke: #000000; stroke-width: 1.9; stroke-linejoin: miter; stroke-linecap: square"/>
   </g>
   <g id="patch_4">
    <path d="M 401.7 501.8 L 401.7 6.1 " style="fill: none; stroke: #000000; stroke-width: 1.9; stroke-linejoin: miter; stroke-linecap: square"/>
   </g>
   <g id="patch_5">
    <path d="M 63.7 501.8 L 401.7 501.8 " style="fill: none; stroke: #000000; stroke-width: 1.9; stroke-linejoin: miter; stroke-linecap: square"/>
   </g>
   <g id="patch_6">
    <path d="M 63.7 6.1 L 401.7 6.1 " style="fill: none; stroke: #000000; stroke-width: 1.9; stroke-linejoin: miter; stroke-linecap: square"/>
   </g>
   <g id="legend_1">
    <g id="patch_7">
     <path d="M 71.925 84.487188 L 200.829844 84.487188 Q 203.179844 84.487188 203.179844 82.137187 L 203.179844 14.325 Q 203.179844 11.975 200.829844 11.975 L 71.925 11.975 Q 69.575 11.975 69.575 14.325 L 69.575 82.137187 Q 69.575 84.487188 71.925 84.487188 z
" style="fill: #ffffff; opacity: 0.9; stroke: #cccccc; stroke-linejoin: miter"/>
    </g>
    <g id="line2d_81">
     <path d="M 74.275 21.490664 L 86.025 21.490664 L 97.775 21.490664 " style="fill: none; stroke: #c9520f; stroke-width: 2.4; stroke-linecap: square"/>
          <g>
      <path d="M 0 -3.444 L -3.444 3.444 L 3.444 3.444 z
" transform="translate(86.025 21.490664)" style="stroke: #c9520f; stroke-linejoin: miter;fill: #c9520f; stroke: #c9520f; stroke-linejoin: miter"/>
     </g>
    </g>
    <g id="text_11">
     <text style="font-size: 11.75px; font-family: 'DejaVu Sans', sans-serif; text-anchor: start" x="107.175" y="25.603164" transform="rotate(-0 107.175 25.603164)">δz fixed, 3x333</text>
    </g>
    <g id="line2d_82">
     <path d="M 74.275 38.737461 L 86.025 38.737461 L 97.775 38.737461 " style="fill: none; stroke: #d0661a; stroke-width: 2.4; stroke-linecap: square"/>
          <g>
      <path d="M -0 3.444 L 3.444 -3.444 L -3.444 -3.444 z
" transform="translate(86.025 38.737461)" style="stroke: #d0661a; stroke-linejoin: miter;fill: #d0661a; stroke: #d0661a; stroke-linejoin: miter"/>
     </g>
    </g>
    <g id="text_12">
     <text style="font-size: 11.75px; font-family: 'DejaVu Sans', sans-serif; text-anchor: start" x="107.175" y="42.849961" transform="rotate(-0 107.175 42.849961)">δz fixed, R10</text>
    </g>
    <g id="line2d_83">
     <path d="M 74.275 55.984258 L 86.025 55.984258 L 97.775 55.984258 " style="fill: none; stroke: #d4881a; stroke-width: 2.4; stroke-linecap: square"/>
          <g>
      <path d="M -3.444 -0 L 3.444 3.444 L 3.444 -3.444 z
" transform="translate(86.025 55.984258)" style="stroke: #d4881a; stroke-linejoin: miter;fill: #d4881a; stroke: #d4881a; stroke-linejoin: miter"/>
     </g>
    </g>
    <g id="text_13">
     <text style="font-size: 11.75px; font-family: 'DejaVu Sans', sans-serif; text-anchor: start" x="107.175" y="60.096758" transform="rotate(-0 107.175 60.096758)">δz fixed, R100</text>
    </g>
    <g id="line2d_84">
     <path d="M 74.275 73.231055 L 86.025 73.231055 L 97.775 73.231055 " style="fill: none; stroke: #d6a216; stroke-width: 2.4; stroke-linecap: square"/>
          <g>
      <path d="M 3.444 0 L -3.444 -3.444 L -3.444 3.444 z
" transform="translate(86.025 73.231055)" style="stroke: #d6a216; stroke-linejoin: miter;fill: #d6a216; stroke: #d6a216; stroke-linejoin: miter"/>
     </g>
    </g>
    <g id="text_14">
     <text style="font-size: 11.75px; font-family: 'DejaVu Sans', sans-serif; text-anchor: start" x="107.175" y="77.343555" transform="rotate(-0 107.175 77.343555)">δz fixed, R1000</text>
    </g>
   </g>
   <g id="legend_2">
    <g id="patch_8">
     <path d="M 251.687383 495.925 L 393.475 495.925 Q 395.825 495.925 395.825 493.575 L 395.825 425.762812 Q 395.825 423.412813 393.475 423.412813 L 251.687383 423.412813 Q 249.337383 423.412813 249.337383 425.762812 L 249.337383 493.575 Q 249.337383 495.925 251.687383 495.925 z
" style="fill: #ffffff; opacity: 0.9; stroke: #cccccc; stroke-linejoin: miter"/>
    </g>
    <g id="line2d_85">
     <path d="M 254.037383 432.928477 L 265.787383 432.928477 L 277.537383 432.928477 " style="fill: none; stroke: #0a0a50; stroke-width: 2.4; stroke-linecap: square"/>
          <g>
      <path d="M 0 -3.444 L -3.444 3.444 L 3.444 3.444 z
" transform="translate(265.787383 432.928477)" style="stroke: #0a0a50; stroke-linejoin: miter;fill: #0a0a50; stroke: #0a0a50; stroke-linejoin: miter"/>
     </g>
    </g>
    <g id="text_15">
     <text style="font-size: 11.75px; font-family: 'DejaVu Sans', sans-serif; text-anchor: start" x="286.937383" y="437.040977" transform="rotate(-0 286.937383 437.040977)">δz as obs., 3x333</text>
    </g>
    <g id="line2d_86">
     <path d="M 254.037383 450.175273 L 265.787383 450.175273 L 277.537383 450.175273 " style="fill: none; stroke: #1c2888; stroke-width: 2.4; stroke-linecap: square"/>
          <g>
      <path d="M -0 3.444 L 3.444 -3.444 L -3.444 -3.444 z
" transform="translate(265.787383 450.175273)" style="stroke: #1c2888; stroke-linejoin: miter;fill: #1c2888; stroke: #1c2888; stroke-linejoin: miter"/>
     </g>
    </g>
    <g id="text_16">
     <text style="font-size: 11.75px; font-family: 'DejaVu Sans', sans-serif; text-anchor: start" x="286.937383" y="454.287773" transform="rotate(-0 286.937383 454.287773)">δz as obs., R10</text>
    </g>
    <g id="line2d_87">
     <path d="M 254.037383 467.42207 L 265.787383 467.42207 L 277.537383 467.42207 " style="fill: none; stroke: #3a60b0; stroke-width: 2.4; stroke-linecap: square"/>
          <g>
      <path d="M -3.444 -0 L 3.444 3.444 L 3.444 -3.444 z
" transform="translate(265.787383 467.42207)" style="stroke: #3a60b0; stroke-linejoin: miter;fill: #3a60b0; stroke: #3a60b0; stroke-linejoin: miter"/>
     </g>
    </g>
    <g id="text_17">
     <text style="font-size: 11.75px; font-family: 'DejaVu Sans', sans-serif; text-anchor: start" x="286.937383" y="471.53457" transform="rotate(-0 286.937383 471.53457)">δz as obs., R100</text>
    </g>
    <g id="line2d_88">
     <path d="M 254.037383 484.668867 L 265.787383 484.668867 L 277.537383 484.668867 " style="fill: none; stroke: #5a8ed6; stroke-width: 2.4; stroke-linecap: square"/>
          <g>
      <path d="M 3.444 0 L -3.444 -3.444 L -3.444 3.444 z
" transform="translate(265.787383 484.668867)" style="stroke: #5a8ed6; stroke-linejoin: miter;fill: #5a8ed6; stroke: #5a8ed6; stroke-linejoin: miter"/>
     </g>
    </g>
    <g id="text_18">
     <text style="font-size: 11.75px; font-family: 'DejaVu Sans', sans-serif; text-anchor: start" x="286.937383" y="488.781367" transform="rotate(-0 286.937383 488.781367)">δz as obs., R1000</text>
    </g>
   </g>
  </g>
 </g>
 <defs>
  <clipPath id="p9ecd431a60">
   <rect x="63.7" y="6.1" width="338" height="495.7"/>
  </clipPath>
 </defs>
</svg>

</body></html>
